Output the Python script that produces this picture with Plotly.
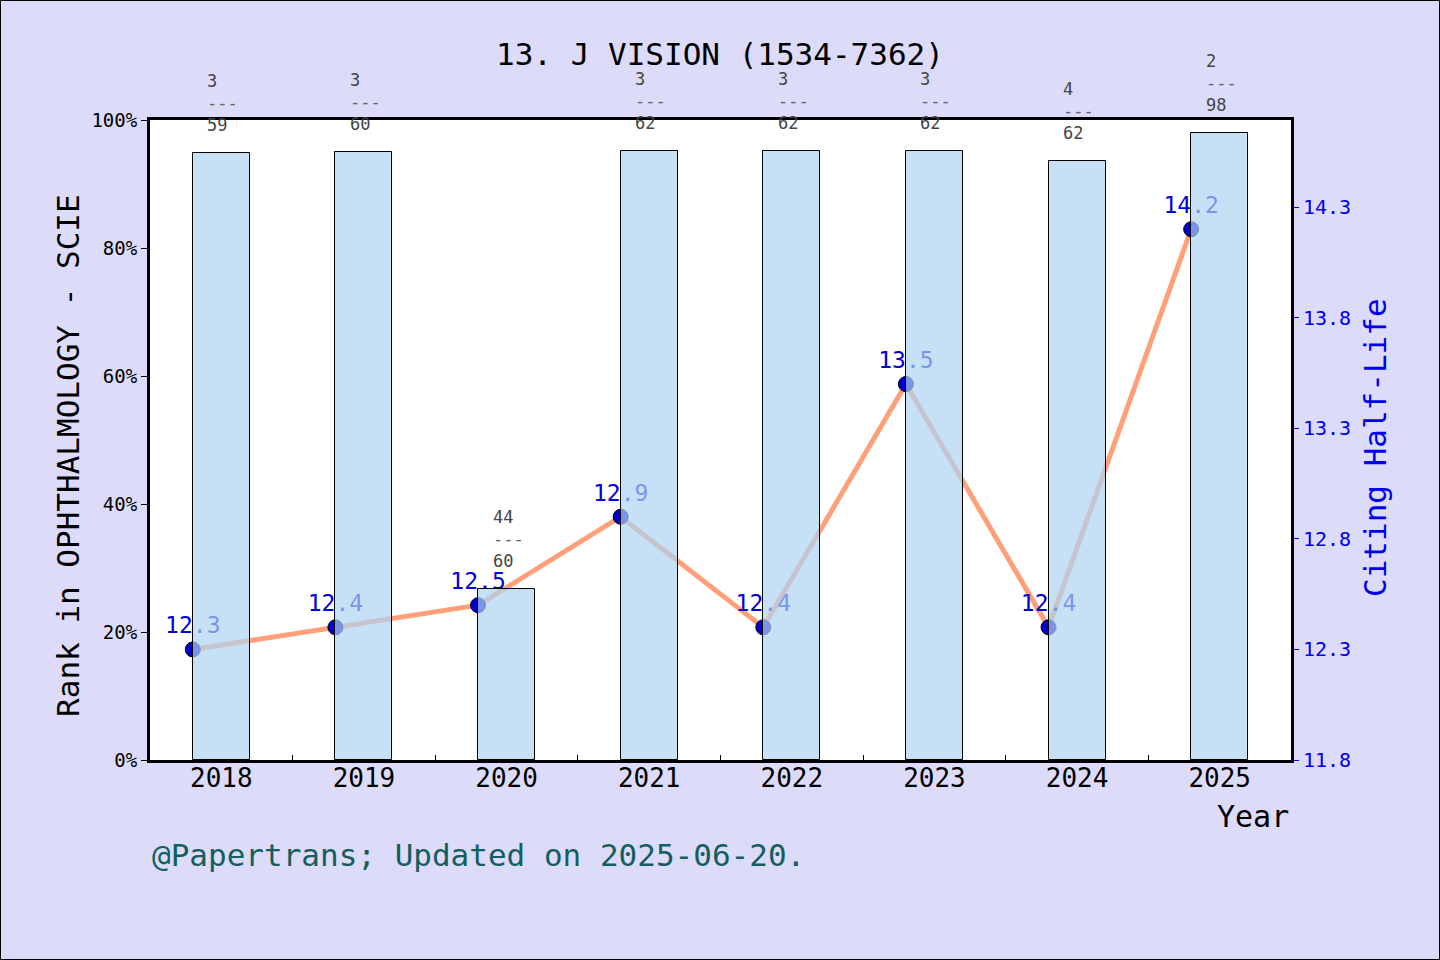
import plotly.graph_objects as go

years = ["2018", "2019", "2020", "2021", "2022", "2023", "2024", "2025"]
rank = [3, 3, 44, 3, 3, 3, 4, 2]
total = [59, 60, 60, 62, 62, 62, 62, 98]
half_life = [12.3, 12.4, 12.5, 12.9, 12.4, 13.5, 12.4, 14.2]
pct_ticks = [0, 0.2, 0.4, 0.6, 0.8, 1.0]
hl_ticks = [11.8, 12.3, 12.8, 13.3, 13.8, 14.3]

MONO = "DejaVu Sans Mono"
BG = "#dcdbfa"

xpos = list(range(len(years)))
bar_h = [1 - r / t for r, t in zip(rank, total)]

fig = go.Figure()

# half-life line sits on the base axis (drawn first, so the bars cover it)
fig.add_trace(go.Scatter(
    x=[i - 0.2 for i in xpos], y=half_life,
    mode="lines+markers+text",
    line=dict(color="#ffa07a", width=5),
    marker=dict(color="#0000cd", size=15, line=dict(color="black", width=1)),
    text=[str(v) for v in half_life],
    textposition="top center",
    textfont=dict(family=MONO, size=23, color="#0000dd"),
    cliponaxis=False,
    yaxis="y",
    showlegend=False,
))

# rank bars on the overlaying axis, semi transparent
fig.add_trace(go.Bar(
    x=xpos, y=bar_h, width=0.4,
    marker=dict(color="rgba(174,211,242,0.7)", line=dict(color="black", width=1)),
    yaxis="y2",
    showlegend=False,
))

# rank / total labels above each bar
for i, (r, t, h) in enumerate(zip(rank, total, bar_h)):
    fig.add_annotation(
        x=i, y=h, xref="x", yref="y2",
        text=f"{r}<br><span style='color:#666'>---</span><br>{t}",
        showarrow=False, xanchor="left", yanchor="bottom", align="left",
        xshift=-16, yshift=16,
        font=dict(family=MONO, size=17, color="#444"),
    )

fig.update_layout(
    width=1440, height=960,
    margin=dict(l=150, r=149, t=120, b=200),
    paper_bgcolor=BG, plot_bgcolor="white",
    bargap=0,
    xaxis=dict(
        range=[-0.5, 7.5],
        tickvals=xpos, ticktext=years, ticks="",
        tickfont=dict(family=MONO, size=26, color="black"),
        ticklabelstandoff=-7,
        showline=True, linecolor="black", linewidth=3, mirror=True,
        showgrid=False, zeroline=False,
        minor=dict(tickvals=[i + 0.5 for i in xpos[:-1]], ticks="inside",
                   ticklen=5, tickcolor="black", tickwidth=1, showgrid=False),
    ),
    yaxis=dict(
        side="right", range=[11.8, 14.694],
        tickvals=hl_ticks, ticktext=[str(v) for v in hl_ticks],
        ticks="outside", ticklen=5, tickcolor="#0000ee",
        tickfont=dict(family=MONO, size=20, color="#0000ee"),
        showline=True, linecolor="black", linewidth=3,
        showgrid=False, zeroline=False,
    ),
    yaxis2=dict(
        overlaying="y", side="left", range=[0, 1],
        tickvals=pct_ticks, ticktext=[f"{int(v * 100)}%" for v in pct_ticks],
        ticks="outside", ticklen=6, tickcolor="black",
        tickfont=dict(family=MONO, size=19, color="black"),
        showline=True, linecolor="black", linewidth=3,
        showgrid=False, zeroline=False,
    ),
)

# titles and footer
fig.add_annotation(x=0.4996, y=1.103, xref="paper", yref="paper",
                   xanchor="center", yanchor="middle",
                   text="13. J VISION (1534-7362)", showarrow=False,
                   font=dict(family=MONO, size=31, color="black"))
fig.add_annotation(x=-0.0719, y=0.4766, xref="paper", yref="paper",
                   xanchor="center", yanchor="middle",
                   text="Rank in OPHTHALMOLOGY - SCIE", textangle=-90, showarrow=False,
                   font=dict(family=MONO, size=31, color="black"))
fig.add_annotation(x=1.0736, y=0.489, xref="paper", yref="paper",
                   xanchor="center", yanchor="middle",
                   text="Citing Half-Life", textangle=-90, showarrow=False,
                   font=dict(family=MONO, size=31, color="#0000ee"))
fig.add_annotation(x=0.9667, y=-0.089, xref="paper", yref="paper",
                   xanchor="center", yanchor="middle",
                   text="Year", showarrow=False,
                   font=dict(family=MONO, size=30, color="black"))
fig.add_annotation(x=0.0, y=-0.148, xref="paper", yref="paper",
                   xanchor="left", yanchor="middle",
                   text="@Papertrans; Updated on 2025-06-20.", showarrow=False,
                   font=dict(family=MONO, size=31, color="#155e5e"))

# thin border round the whole image
fig.add_shape(type="rect", xref="paper", yref="paper",
              x0=-149.5 / 1141, x1=1 + 148.5 / 1141,
              y0=-199.5 / 640, y1=1 + 119.5 / 640,
              line=dict(color="black", width=1), layer="below")

fig.write_html("out.html", config={"displayModeBar": False},
               post_script="document.body.style.margin='0';")
